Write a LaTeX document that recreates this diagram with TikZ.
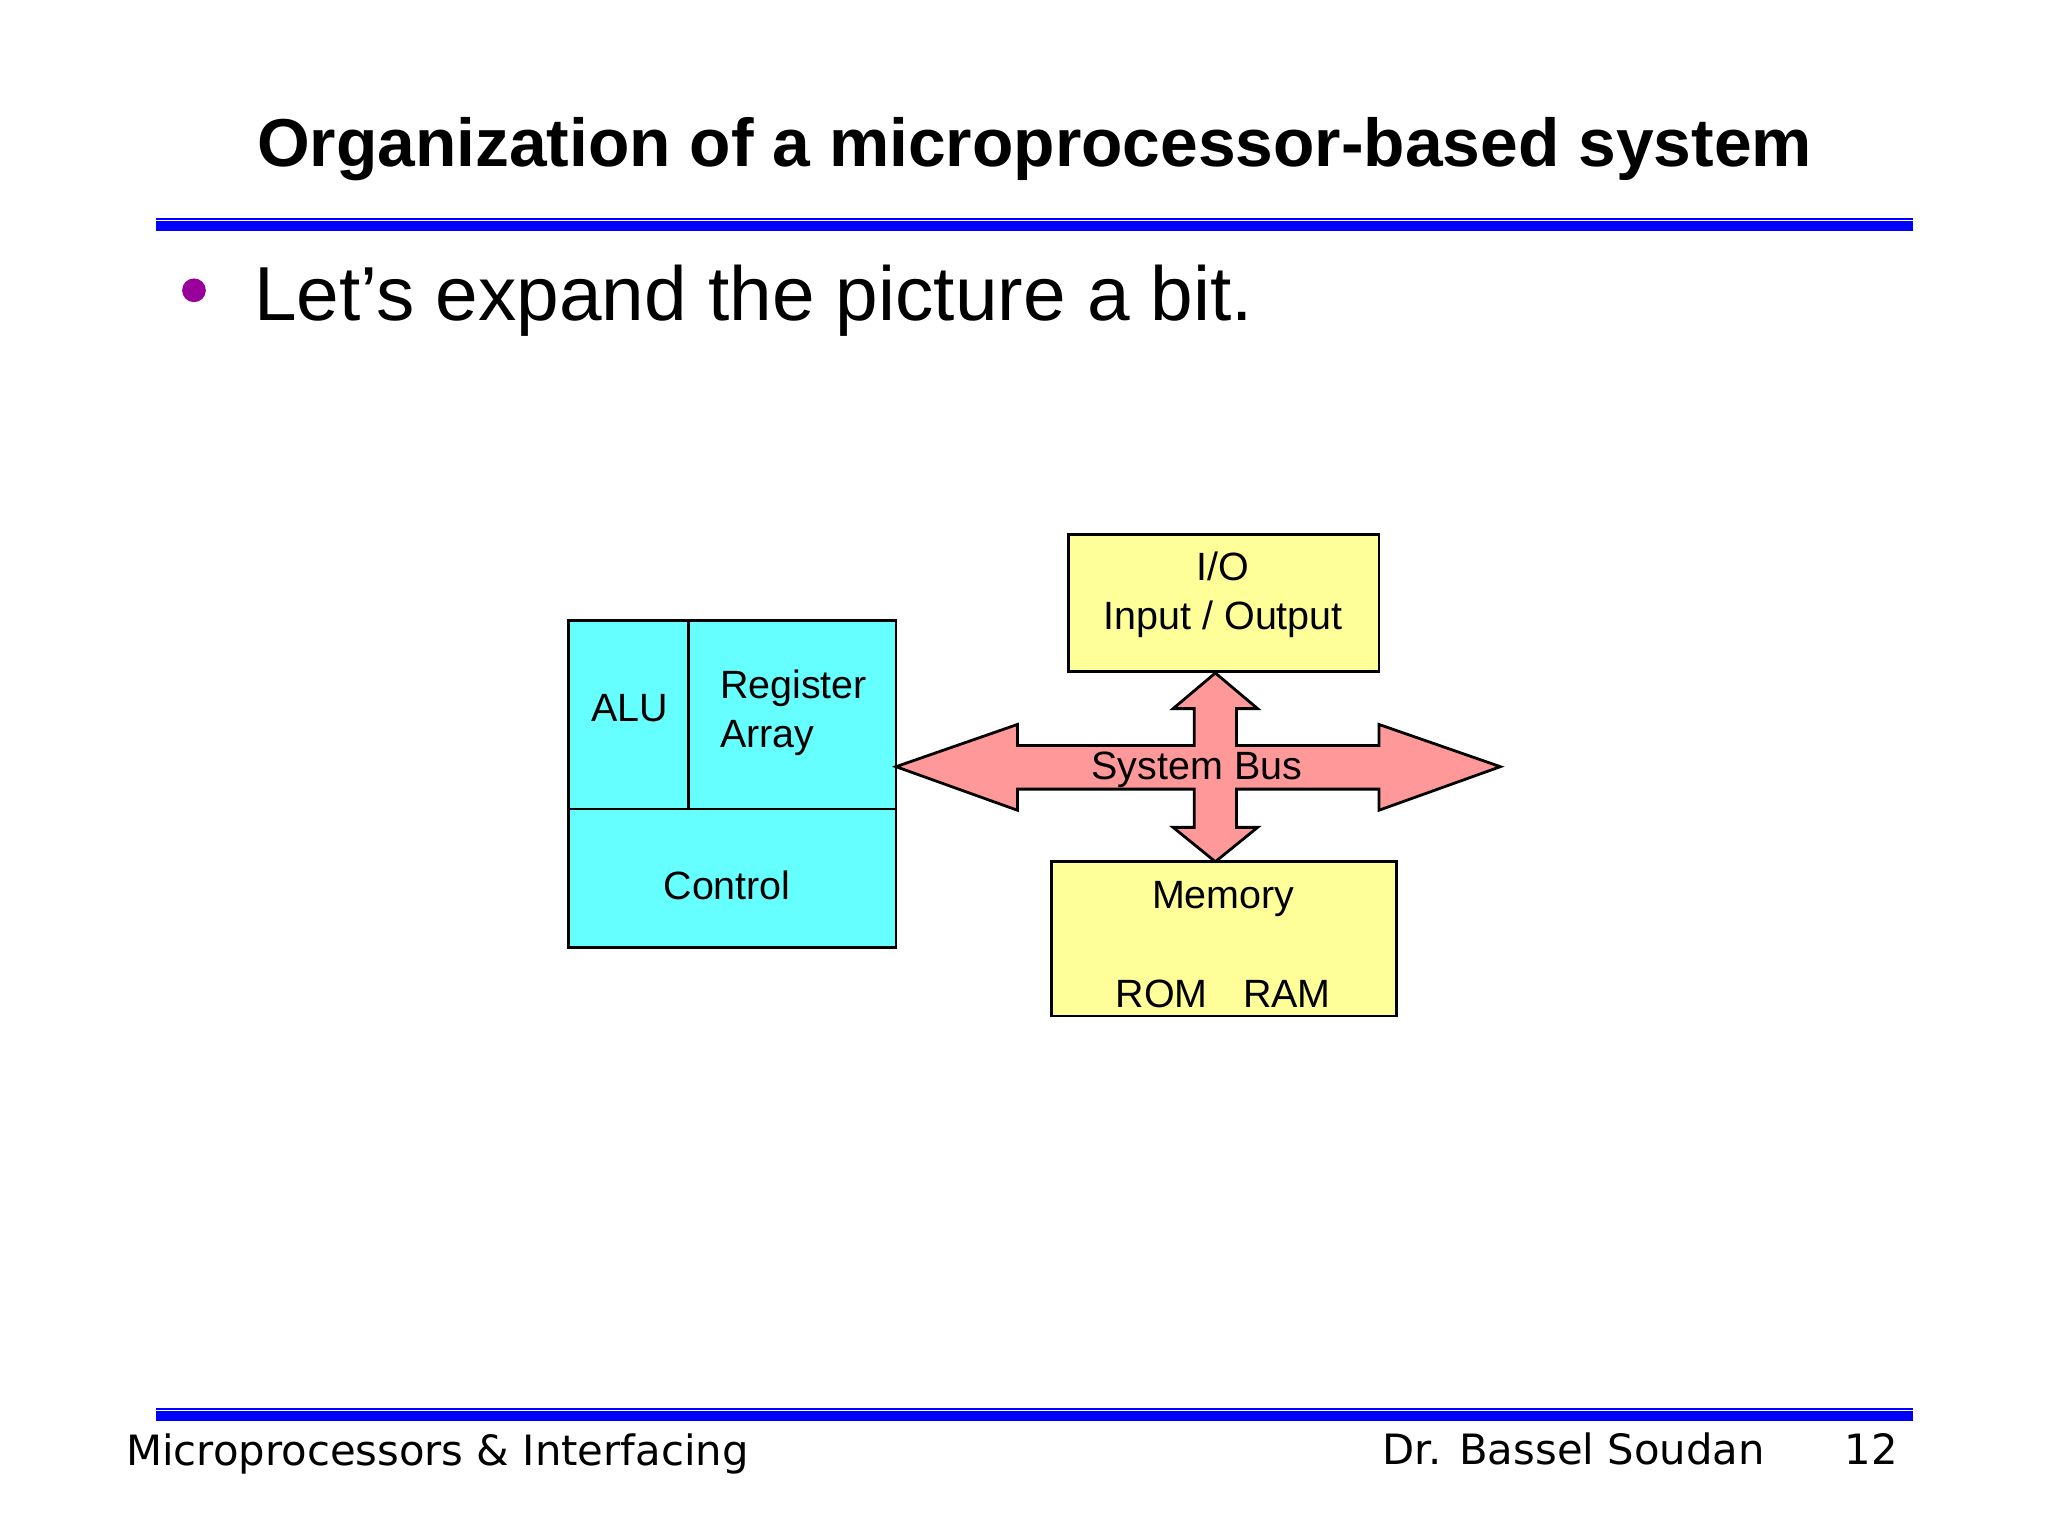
\documentclass[tikz,border=0pt]{standalone}
\usepackage{fontspec}
\setmainfont{Liberation Sans}
\newfontfamily\footfont{DejaVu Sans}
\definecolor{cpucyan}{HTML}{66FFFF}
\definecolor{boxyellow}{HTML}{FFFF99}
\definecolor{busred}{HTML}{FF9999}
\begin{document}
\begin{tikzpicture}[x=0.01cm,y=-0.01cm,
  box/.style={draw=black,line width=0.6pt},
  txt/.style={font=\fontsize{8.5}{10.5}\selectfont,inner sep=0pt},
  foot/.style={font=\footfont\fontsize{9}{11}\selectfont,inner sep=0pt}]
\useasboundingbox (0,0) rectangle (1552,1164);
% title and rules
\node[font=\bfseries\fontsize{14.6}{18}\selectfont] (title) at (784,113) {Organization of a microprocessor-based system};
\foreach \y in {166,1068} {
  \draw[blue,line width=0.5pt] (118,\y) -- (1450,\y);
  \draw[blue,line width=2.2pt] (118,\y+5) -- (1450,\y+5);
}
\fill[violet!80!magenta] (147,220) circle (9);
\node[anchor=west,font=\fontsize{16.5}{20}\selectfont,inner sep=0pt] (bullet) at (192,228) {Let’s expand the picture a bit.};
% CPU
\draw[box,fill=cpucyan] (431,470) rectangle (679,718);
\draw[box] (522,470) -- (522,613);
\draw[box] (431,613) -- (679,613);
\node[txt] (alu) at (477,537) {ALU};
\node[txt,anchor=west,align=left] (reg) at (545,540) {Register\\Array};
\node[txt] (ctrl) at (551,671) {Control};
% bus
\draw[box,fill=busred] (679,581) -- (771,549) -- (771,565) -- (905,565) -- (905,537) -- (889,537)
  -- (921,510) -- (953,537) -- (937,537) -- (937,565) -- (1045,565) -- (1045,549) -- (1137,581)
  -- (1045,614) -- (1045,598) -- (937,598) -- (937,627) -- (953,627) -- (921,653) -- (889,627)
  -- (905,627) -- (905,598) -- (771,598) -- (771,614) -- cycle;
\node[txt] (bus) at (907,583) {System Bus};
% I/O
\draw[box,fill=boxyellow] (810,405) rectangle (1045,509);
\node[txt,align=center] (io) at (927,451) {I/O\\Input / Output};
% Memory
\draw[box,fill=boxyellow] (797,653) rectangle (1058,770);
\node[txt] (mem) at (927,681) {Memory};
\node[txt] (romram) at (927,753) {ROM\hspace{0.9em}RAM};
% footer
\node[foot,anchor=west] (course) at (95,1102) {Microprocessors \& Interfacing};
\node[foot,anchor=east] (author) at (1338,1098) {Dr. Bassel Soudan};
\node[foot] (page) at (1418,1098) {12};
\end{tikzpicture}
\end{document}
